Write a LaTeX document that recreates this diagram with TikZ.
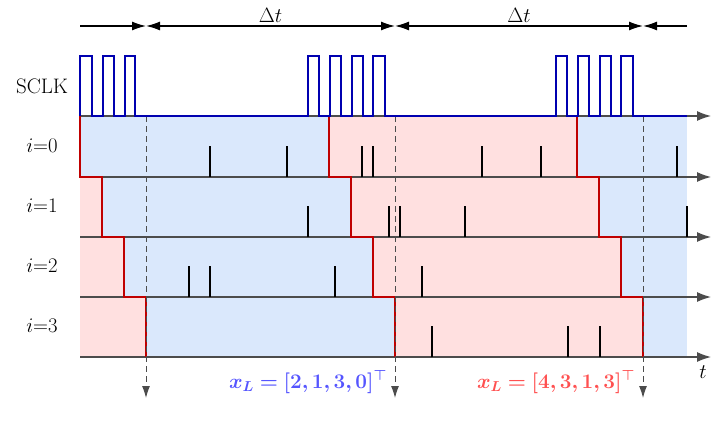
\documentclass[tikz,border=0pt]{standalone}
\usepackage{amsmath,amssymb,bm}
\usetikzlibrary{arrows.meta}
\definecolor{bshade}{HTML}{DAE8FC}
\definecolor{rshade}{HTML}{FFE0E0}
\definecolor{sclk}{HTML}{0000B0}
\definecolor{stair}{HTML}{C00000}
\definecolor{lblue}{HTML}{5555FF}
\definecolor{lred}{HTML}{FF5050}
\begin{document}
\begin{tikzpicture}[x=1pt,y=-1pt,
  axis/.style={draw=black!70,line width=1.2pt,-{Latex[length=14pt,width=10pt]}},
  spike/.style={line width=2.8pt},
  stairline/.style={draw=stair,line width=2.5pt},
  dashedarrow/.style={draw=black!70,line width=1pt,dash pattern=on 6pt off 4pt,-{Latex[length=12pt,width=8pt]}},
  dim/.style={line width=1.4pt,{Latex[length=14pt,width=9pt]}-{Latex[length=14pt,width=9pt]}},
  lbl/.style={font=\fontsize{21}{25}\selectfont}]
\useasboundingbox (0,0) rectangle (722,425);
% shading rows
\fill[bshade](80,116) rectangle (329,177);\fill[rshade](329,116) rectangle (577,177);\fill[bshade](577,116) rectangle (687,177);
\fill[rshade](80,177) rectangle (102,237);\fill[bshade](102,177) rectangle (351,237);\fill[rshade](351,177) rectangle (599,237);\fill[bshade](599,177) rectangle (687,237);
\fill[rshade](80,237) rectangle (124,297);\fill[bshade](124,237) rectangle (373,297);\fill[rshade](373,237) rectangle (621,297);\fill[bshade](621,237) rectangle (687,297);
\fill[rshade](80,297) rectangle (146,357);\fill[bshade](146,297) rectangle (395,357);\fill[rshade](395,297) rectangle (643,357);\fill[bshade](643,297) rectangle (687,357);
% axes
\coordinate (a0s) at (80,116); \coordinate (a0e) at (711,116);
\coordinate (a1s) at (80,177); \coordinate (a1e) at (711,177);
\coordinate (a2s) at (80,237); \coordinate (a2e) at (711,237);
\coordinate (a3s) at (80,297); \coordinate (a3e) at (711,297);
\coordinate (a4s) at (80,357); \coordinate (a4e) at (711,357);
\foreach \i in {0,...,4} \draw[axis] (a\i s) -- (a\i e);
% spikes
\foreach \x in {210,287,362,373,482,541,677} \draw[spike] (\x,177) -- (\x,146);
\foreach \x in {308,389,400,465,687} \draw[spike] (\x,237) -- (\x,206);
\foreach \x in {189,210,335,422} \draw[spike] (\x,297) -- (\x,266);
\foreach \x in {432,568,600} \draw[spike] (\x,357) -- (\x,326);
% stairs
\draw[stairline] (80,116) |- (102,177) |- (124,237) |- (146,297) -- (146,357);
\draw[stairline] (329,116) |- (351,177) |- (373,237) |- (395,297) -- (395,357);
\draw[stairline] (577,116) |- (599,177) |- (621,237) |- (643,297) -- (643,357);
% dashed
\coordinate (d1s) at (146,116); \coordinate (d1e) at (146,398);
\coordinate (d2s) at (395,116); \coordinate (d2e) at (395,398);
\coordinate (d3s) at (643,116); \coordinate (d3e) at (643,398);
\foreach \i in {1,2,3} \draw[dashedarrow] (d\i s) -- (d\i e);
% SCLK
\draw[sclk,line width=2.8pt] (80,116) -- (80,56) -- (92,56) -- (92,116) -- (103,116) -- (103,56) -- (114,56) -- (114,116) -- (125,116) -- (125,56) -- (135,56) -- (135,116)
 -- (308,116) -- (308,56) -- (319,56) -- (319,116) -- (330,116) -- (330,56) -- (341,56) -- (341,116) -- (352,116) -- (352,56) -- (363,56) -- (363,116) -- (373,116) -- (373,56) -- (385,56) -- (385,116)
 -- (556,116) -- (556,56) -- (567,56) -- (567,116) -- (578,116) -- (578,56) -- (589,56) -- (589,116) -- (600,116) -- (600,56) -- (611,56) -- (611,116) -- (621,116) -- (621,56) -- (633,56) -- (633,116) -- (687,116);
% top dims
\coordinate (t0) at (80,26); \coordinate (t1) at (146,26); \coordinate (t2) at (395,26); \coordinate (t3) at (643,26); \coordinate (t4) at (687,26);
\draw[line width=1.4pt,-{Latex[length=14pt,width=9pt]}] (t0) -- (t1);
\draw[dim] (t1) -- node[above=-1pt,lbl] (dt1) {$\Delta t$} (t2);
\draw[dim] (t2) -- node[above=-1pt,lbl] (dt2) {$\Delta t$} (t3);
\draw[line width=1.4pt,-{Latex[length=14pt,width=9pt]}] (t4) -- (t3);
% labels
\node[lbl] (sclklbl) at (42,86) {SCLK};
\node[lbl] (r0) at (42,146) {$i{=}0$};
\node[lbl] (r1) at (42,206) {$i{=}1$};
\node[lbl] (r2) at (42,266) {$i{=}2$};
\node[lbl] (r3) at (42,326) {$i{=}3$};
\node[lbl] (tl) at (703,372) {$t$};
\node[lbl,text=lblue] (xl1) at (308,382) {$\bm{x_L=[2,1,3,0]^\top}$};
\node[lbl,text=lred] (xl2) at (556,382) {$\bm{x_L=[4,3,1,3]^\top}$};
\end{tikzpicture}
\end{document}
